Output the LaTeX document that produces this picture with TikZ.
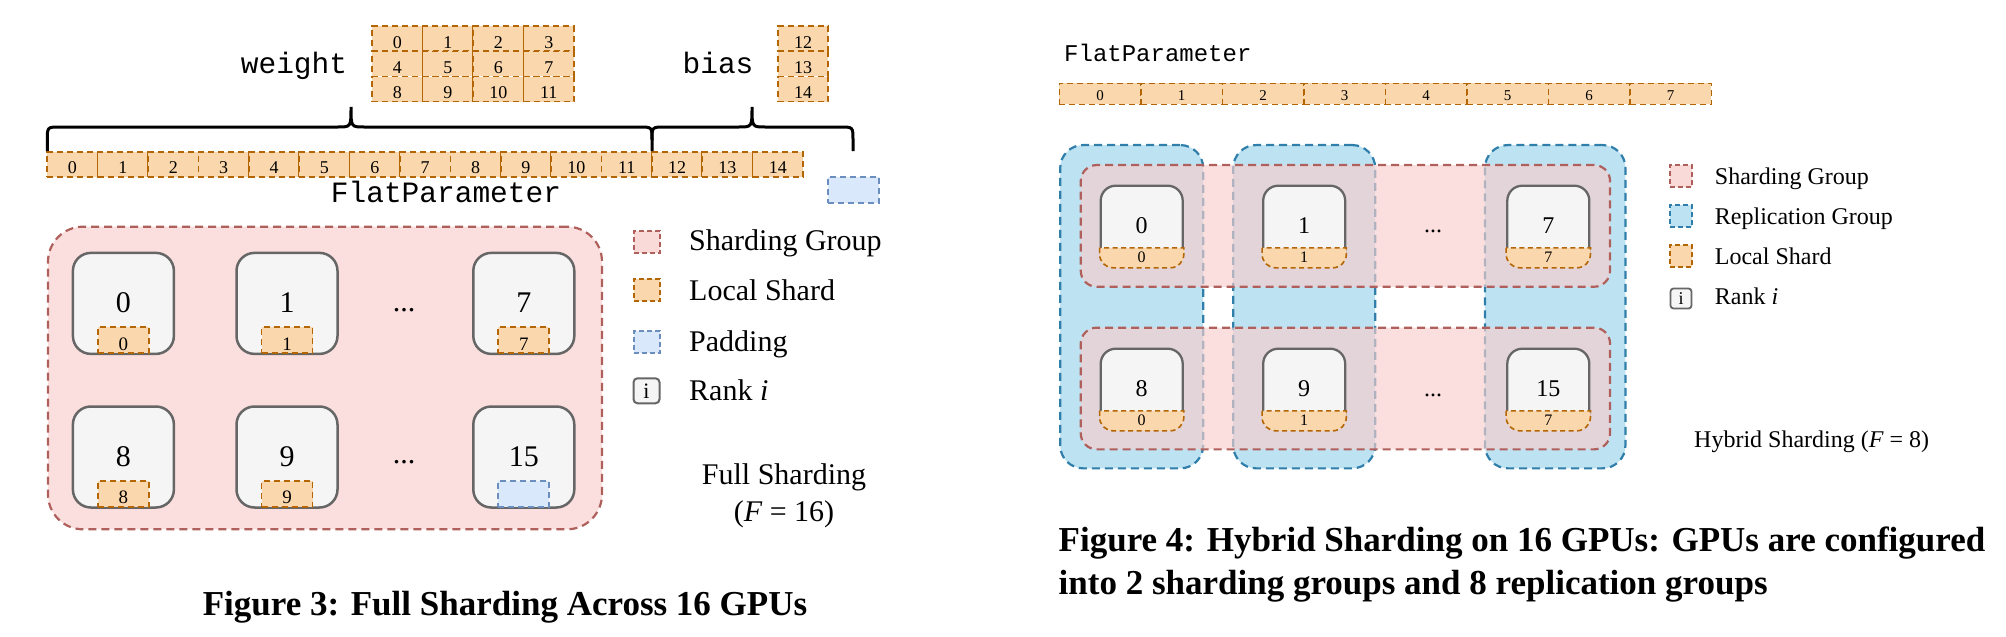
\documentclass[tikz,border=0pt]{standalone}
\usepackage{fontspec}
\setmainfont{Liberation Serif}
\newfontfamily\monof{Liberation Mono}
\usetikzlibrary{calc}
\definecolor{shfill}{HTML}{FAD7AC}
\definecolor{shdraw}{HTML}{B46504}
\definecolor{pkfill}{HTML}{F8CECC}
\definecolor{pkdraw}{HTML}{B0605C}
\definecolor{blfill}{HTML}{B1DDF0}
\definecolor{bldraw}{HTML}{2F7FAA}
\definecolor{pdfill}{HTML}{DAE8FC}
\definecolor{pddraw}{HTML}{6C8EBF}
\definecolor{rkfill}{HTML}{F5F5F5}
\definecolor{rkdraw}{HTML}{666666}
\newcommand{\fs}[1]{\fontsize{#1}{#1}\selectfont}
\tikzset{
 cellA/.style={draw=shdraw, fill=shfill, line width=1.6pt, dash pattern=on 6pt off 4pt, minimum width=50.4pt, minimum height=25pt, inner sep=0pt},
 cellB/.style={draw=shdraw, fill=shfill, line width=1.5pt, dash pattern=on 6pt off 4pt, minimum width=81.5pt, minimum height=21pt, inner sep=0pt},
 numA/.style={font=\fs{18}, inner sep=0pt},
 numB/.style={font=\fs{15}, inner sep=0pt},
 pinkgrp/.style={draw=pkdraw, fill=pkfill, fill opacity=0.65, line width=2.2pt, dash pattern=on 8pt off 5pt, inner sep=0pt},
 bluegrp/.style={draw=bldraw, fill=blfill, fill opacity=0.85, line width=2.2pt, dash pattern=on 8pt off 5pt, inner sep=0pt},
 rankbox/.style={draw=rkdraw, fill=rkfill, line width=2.5pt, inner sep=0pt},
 padbox/.style={draw=pddraw, fill=pdfill, line width=1.8pt, dash pattern=on 6pt off 4pt, inner sep=0pt},
 shardA/.style={draw=shdraw, fill=shfill, line width=1.8pt, dash pattern=on 6pt off 4pt, inner sep=0pt, minimum width=51pt, minimum height=26pt},
 bracestyle/.style={line width=3pt, black},
 lbl/.style={inner sep=0pt},
}
\begin{document}
\begin{tikzpicture}[x=1pt,y=-1pt]
\useasboundingbox (0,0) rectangle (2006,637);
% ================= LEFT PANEL =================
% weight grid
\foreach \r in {0,1,2}{
 \foreach \c in {0,...,3}{
  \pgfmathtruncatemacro{\k}{4*\r+\c}
  \node[cellA] (w\k) at ({372+50.5*(\c+0.5)},{26+25.2*(\r+0.5)}) {};
  \node[numA] (wn\k) at ([yshift=-4pt]w\k.center) {\k};
 }
}
% bias grid
\foreach \r in {0,1,2}{
  \pgfmathtruncatemacro{\k}{12+\r}
  \node[cellA] (b\k) at (803,{26+25.2*(\r+0.5)}) {};
  \node[numA] (bn\k) at ([yshift=-4pt]b\k.center) {\k};
}
\node[lbl, font=\monof\fs{29.5}, anchor=base] (wlab) at (294,73.3) {weight};
\node[lbl, font=\monof\fs{29.5}, anchor=base] (blab) at (718,73.3) {bias};
% flat parameter bar
\foreach \i in {0,...,14}{
  \node[cellA] (fa\i) at ({47.3+50.38*(\i+0.5)},164.2) {};
  \node[numA] (fan\i) at ([yshift=-3.3pt]fa\i.center) {\i};
}
\node[padbox, minimum width=51pt, minimum height=26pt] (pad) at (853.4,189.7) {};
\node[lbl, font=\monof\fs{29.5}, anchor=base] (flab) at (446,202.7) {FlatParameter};
% braces
\draw[bracestyle] (47.3,151) -- (47.3,140) .. controls (47.3,127) .. (60,127) -- (338,127) .. controls (351,127) .. (351,107) .. controls (351,127) .. (364,127) -- (639,127) .. controls (652,127) .. (652,140) -- (652,151);
\draw[bracestyle] (652,140) .. controls (652,127) .. (665,127) -- (739,127) .. controls (752,127) .. (752,107) .. controls (752,127) .. (765,127) -- (840,127) .. controls (853,127) .. (853,140) -- (853,151);
% sharding group
\node[pinkgrp, rounded corners=35pt, minimum width=554pt, minimum height=302.6pt] (sgL) at (325,378) {};
% rank boxes
\foreach \x/\rk/\sh/\nm in {123.4/0/0/a, 287/1/1/b, 523.8/7/7/c}{
  \node[rankbox, rounded corners=18pt, minimum width=101pt, minimum height=101pt] (rt\nm) at (\x,303.4) {};
  \node[lbl, font=\fs{30}] (rtl\nm) at (\x,303) {\rk};
  \node[shardA] (st\nm) at (\x,340.3) {};
  \node[lbl, font=\fs{19}] (stl\nm) at (\x,344) {\sh};
}
\foreach \x/\rk/\nm in {123.4/8/a, 287/9/b, 523.8/15/c}{
  \node[rankbox, rounded corners=18pt, minimum width=101pt, minimum height=101pt] (rb\nm) at (\x,457) {};
  \node[lbl, font=\fs{30}] (rbl\nm) at (\x,457) {\rk};
}
\node[shardA] (sba) at (123.4,493.9) {};
\node[lbl, font=\fs{19}] (sbla) at (123.4,497.5) {8};
\node[shardA] (sbb) at (287,493.9) {};
\node[lbl, font=\fs{19}] (sblb) at (287,497.5) {9};
\node[padbox, minimum width=51pt, minimum height=26pt] (sbc) at (523.8,493.9) {};
\node[lbl, font=\fs{30}] (dotsLt) at (404,310) {...};
\node[lbl, font=\fs{30}] (dotsLb) at (404,462) {...};
% legend left
\node[pinkgrp, fill opacity=0.75, line width=1.8pt, dash pattern=on 5pt off 3pt, minimum width=26pt, minimum height=22pt] (lg1) at (647,242) {};
\node[shardA, line width=1.6pt, dash pattern=on 5pt off 3pt, minimum width=26pt, minimum height=22pt] (lg2) at (647,290) {};
\node[padbox, line width=1.6pt, dash pattern=on 5pt off 3pt, minimum width=26pt, minimum height=22pt] (lg3) at (647,341.7) {};
\node[rankbox, line width=2pt, rounded corners=4pt, minimum width=26pt, minimum height=25pt] (lg4) at (646.5,390.8) {};
\node[lbl, font=\fs{22}] (lg4t) at (646.5,391.5) {i};
\node[lbl, font=\fs{30}, anchor=base west] (lt1) at (689,250) {Sharding Group};
\node[lbl, font=\fs{30}, anchor=base west] (lt2) at (689,300) {Local Shard};
\node[lbl, font=\fs{30}, anchor=base west] (lt3) at (689,351.5) {Padding};
\node[lbl, font=\fs{30}, anchor=base west] (lt4) at (689,400) {Rank \textit{i}};
\node[lbl, font=\fs{30}, anchor=base] (fsl1) at (784,484) {Full Sharding};
\node[lbl, font=\fs{30}, anchor=base] (fsl2) at (784,521.7) {(\textit{F} = 16)};
\node[lbl, font=\bfseries\fs{35}, anchor=base] (cap3) at (505,615) {Figure 3: Full Sharding Across 16 GPUs};
% ================= RIGHT PANEL =================
\node[lbl, font=\monof\fs{24}, anchor=base west] (flabR) at (1064,61.7) {FlatParameter};
\foreach \i in {0,...,7}{
  \node[cellB] (fb\i) at ({1059.3+81.5*(\i+0.5)},93.8) {};
  \node[numB] (fbn\i) at ([yshift=-1.5pt]fb\i.center) {\i};
}
% replication groups
\node[bluegrp, rounded corners=23pt, minimum width=143pt, minimum height=323.3pt] (rg1) at (1131.7,306.7) {};
\node[bluegrp, rounded corners=23pt, minimum width=142pt, minimum height=323.3pt] (rg2) at (1304.2,306.7) {};
\node[bluegrp, rounded corners=23pt, minimum width=140.5pt, minimum height=323.3pt] (rg3) at (1555.2,306.7) {};
% sharding groups
\node[pinkgrp, rounded corners=16pt, minimum width=529.3pt, minimum height=121.7pt] (sg1) at (1345.4,225.9) {};
\node[pinkgrp, rounded corners=16pt, minimum width=529.3pt, minimum height=121.7pt] (sg2) at (1345.4,388.5) {};
% rank boxes right
\foreach \x/\rka/\rkb/\sh/\nm in {1141.7/0/8/0/a, 1304.2/1/9/1/b, 1548.3/7/15/7/c}{
  \foreach \yc/\rk/\rw in {226.2/\rka/t, 389.2/\rkb/b}{
    \node[rankbox, line width=2.3pt, rounded corners=15pt, minimum width=82pt, minimum height=81pt] (R\rw\nm) at (\x,\yc) {};
    \node[lbl, font=\fs{24}] (RL\rw\nm) at (\x,\yc-0.5) {\rk};
    \draw[draw=shdraw, fill=shfill, line width=1.6pt, dash pattern=on 5pt off 3.5pt]
      ($(R\rw\nm.south west)+(0,-20)$) -- ($(R\rw\nm.south west)+(0,-14)$)
      .. controls ($(R\rw\nm.south west)+(0,-6)$) and ($(R\rw\nm.south west)+(6,0)$) .. ($(R\rw\nm.south west)+(14,0)$)
      -- ($(R\rw\nm.south east)+(-14,0)$)
      .. controls ($(R\rw\nm.south east)+(-6,0)$) and ($(R\rw\nm.south east)+(0,-6)$) .. ($(R\rw\nm.south east)+(0,-14)$)
      -- ($(R\rw\nm.south east)+(0,-20)$) -- cycle;
    \node[lbl, font=\fs{16}] (RS\rw\nm) at ($(R\rw\nm.south)+(0,-10.5)$) {\sh};
  }
}
\node[lbl, font=\fs{24}] (dotsRt) at (1433,231) {...};
\node[lbl, font=\fs{24}] (dotsRb) at (1433,395) {...};
% legend right
\node[pinkgrp, fill opacity=0.75, line width=1.6pt, dash pattern=on 5pt off 3pt, minimum width=22pt, minimum height=22pt] (rl1) at (1681,176) {};
\node[bluegrp, line width=1.6pt, dash pattern=on 5pt off 3pt, minimum width=22pt, minimum height=22pt] (rl2) at (1681,216) {};
\node[shardA, line width=1.6pt, dash pattern=on 5pt off 3pt, minimum width=22pt, minimum height=22pt] (rl3) at (1681,256) {};
\node[rankbox, line width=1.8pt, rounded corners=3pt, minimum width=21pt, minimum height=20pt] (rl4) at (1681,298.5) {};
\node[lbl, font=\fs{18}] (rl4t) at (1681,299) {i};
\node[lbl, font=\fs{24}, anchor=base west] (rt1) at (1714.7,184.7) {Sharding Group};
\node[lbl, font=\fs{24}, anchor=base west] (rt2) at (1714.7,224) {Replication Group};
\node[lbl, font=\fs{24}, anchor=base west] (rt3) at (1714.7,264.7) {Local Shard};
\node[lbl, font=\fs{24}, anchor=base west] (rt4) at (1714.7,304.7) {Rank \textit{i}};
\node[lbl, font=\fs{24}, anchor=base] (hsl) at (1811.7,447) {Hybrid Sharding (\textit{F} = 8)};
\node[lbl, font=\bfseries\fs{35}, anchor=base west] (cap4a) at (1058.5,551) {Figure 4: Hybrid Sharding on 16 GPUs: GPUs are configured};
\node[lbl, font=\bfseries\fs{35}, anchor=base west] (cap4b) at (1058.5,594) {into 2 sharding groups and 8 replication groups};
\end{tikzpicture}
\end{document}
